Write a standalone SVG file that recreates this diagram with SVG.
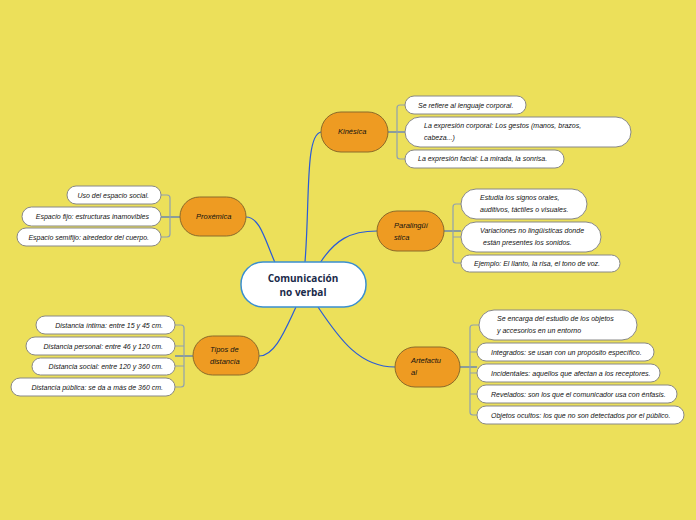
<svg xmlns="http://www.w3.org/2000/svg" width="696" height="520" viewBox="0 0 696 520">
<style>
.m{fill:#ee9b22;stroke:#8a6a2a;stroke-width:1}
.c{fill:#fff;stroke:#888;stroke-width:1}
.t{font-family:"Liberation Sans",sans-serif;font-style:italic;font-size:7px;fill:#111}
.mt{font-family:"Liberation Sans",sans-serif;font-style:italic;font-size:7.5px;fill:#111}
.b{fill:none;stroke:#8fa0b0;stroke-width:1.2}
.l{fill:none;stroke:#2a5bd7;stroke-width:1.2}
</style>
<rect width="696" height="520" fill="#ece05a"/>
<g id="connectors">
<path class="l" d="M305 262 C310 200 305 135 321 132"/>
<path class="l" d="M320 263 C335 240 350 231 377 231"/>
<path class="l" d="M318 307 C340 340 360 367 395 367"/>
<path class="l" d="M276 265 C265 240 260 217 246 217"/>
<path class="l" d="M296 307 C285 330 275 356 259 356"/>
<path class="l" d="M388 132 H405 M444 231 H461 M460 367 H477 M180 217 H161 M193 356 H175" stroke-width="1.5"/>
<path class="b" d="M405 105 H400 Q397 105 397 108 V156 Q397 159 400 159 H405 M397 132 H405"/>
<path class="b" d="M461 204 H456 Q453 204 453 207 V260 Q453 263 456 263 H461 M453 237 H461"/>
<path class="b" d="M479 325 H473 Q470 325 470 328 V412 Q470 415 473 415 H477 M470 352 H477 M470 373 H477 M470 394 H477"/>
<path class="b" d="M161 195 H167 Q170 195 170 198 V234 Q170 237 167 237 H161"/>
<path class="b" d="M175 325 H181 Q184 325 184 328 V384 Q184 387 181 387 H175 M184 346 H175 M184 366 H175"/>
</g>
<g id="center"><rect x="241" y="262" width="125" height="45" rx="22" fill="#fff" stroke="#3a8fd0" stroke-width="1.5"/>
<text x="303" y="282" text-anchor="middle" font-family="'Open Sans',sans-serif" font-weight="bold" font-size="10" fill="#1a2a4a">Comunicación</text>
<text x="303" y="296" text-anchor="middle" font-family="'Open Sans',sans-serif" font-weight="bold" font-size="10" fill="#1a2a4a">no verbal</text></g>
<g id="kinesica"><rect class="m" x="321" y="112" width="67" height="40" rx="20"/><text class="mt" x="338" y="134">Kinésica</text></g>
<g id="k1"><rect class="c" x="405" y="96" width="121" height="18" rx="9"/><text class="t" x="418" y="108">Se refiere al lenguaje corporal.</text></g>
<g id="k2"><rect class="c" x="405" y="117" width="226" height="30" rx="15"/><text class="t" x="424" y="128">La expresión corporal: Los gestos (manos, brazos,</text><text class="t" x="424" y="140">cabeza...)</text></g>
<g id="k3"><rect class="c" x="405" y="150" width="159" height="18" rx="9"/><text class="t" x="418" y="161">La expresión facial: La mirada, la sonrisa.</text></g>
<g id="paraling"><rect class="m" x="377" y="211" width="67" height="40" rx="20"/><text class="mt" x="394" y="228">Paralingüí</text><text class="mt" x="394" y="240">stica</text></g>
<g id="p1"><rect class="c" x="461" y="189" width="126" height="30" rx="15"/><text class="t" x="480" y="200">Estudia los signos orales,</text><text class="t" x="480" y="212">auditivos, táctiles o visuales.</text></g>
<g id="p2"><rect class="c" x="461" y="222" width="140" height="30" rx="15"/><text class="t" x="480" y="233">Variaciones no lingüísticas donde</text><text class="t" x="483" y="245">están presentes los sonidos.</text></g>
<g id="p3"><rect class="c" x="461" y="255" width="159" height="17" rx="8.5"/><text class="t" x="474" y="266">Ejemplo: El llanto, la risa, el tono de voz.</text></g>
<g id="artefactual"><rect class="m" x="395" y="347" width="65" height="40" rx="20"/><text class="mt" x="411" y="363">Artefactu</text><text class="mt" x="411" y="375">al</text></g>
<g id="a1"><rect class="c" x="479" y="310" width="158" height="30" rx="15"/><text class="t" x="497" y="321">Se encarga del estudio de los objetos</text><text class="t" x="497" y="333">y accesorios en un entorno</text></g>
<g id="a2"><rect class="c" x="477" y="343" width="177" height="18" rx="9"/><text class="t" x="491" y="355">Integrados: se usan con un propósito específico.</text></g>
<g id="a3"><rect class="c" x="477" y="364" width="183" height="18" rx="9"/><text class="t" x="491" y="376">Incidentales: aquellos que afectan a los receptores.</text></g>
<g id="a4"><rect class="c" x="477" y="385" width="200" height="18" rx="9"/><text class="t" x="491" y="397">Revelados: son los que el comunicador usa con énfasis.</text></g>
<g id="a5"><rect class="c" x="477" y="406" width="207" height="18" rx="9"/><text class="t" x="491" y="418">Objetos ocultos: los que no son detectados por el público.</text></g>
<g id="proxemica"><rect class="m" x="180" y="197" width="66" height="39" rx="19.5"/><text class="mt" x="196" y="219">Proxémica</text></g>
<g id="x1"><rect class="c" x="67" y="186" width="94" height="18" rx="9"/><text class="t" x="149" y="198" text-anchor="end">Uso del espacio social.</text></g>
<g id="x2"><rect class="c" x="22" y="207" width="139" height="19" rx="9.5"/><text class="t" x="149" y="219" text-anchor="end">Espacio fijo: estructuras inamovibles</text></g>
<g id="x3"><rect class="c" x="17" y="228" width="144" height="18" rx="9"/><text class="t" x="149" y="240" text-anchor="end">Espacio semifijo: alrededor del cuerpo.</text></g>
<g id="tipos"><rect class="m" x="193" y="336" width="66" height="39" rx="19.5"/><text class="mt" x="210" y="352">Tipos de</text><text class="mt" x="210" y="364">distancia</text></g>
<g id="d1"><rect class="c" x="36" y="316" width="139" height="18" rx="9"/><text class="t" x="163" y="328" text-anchor="end">Distancia íntima: entre 15 y 45 cm.</text></g>
<g id="d2"><rect class="c" x="26" y="337" width="149" height="18" rx="9"/><text class="t" x="163" y="349" text-anchor="end">Distancia personal: entre 46 y 120 cm.</text></g>
<g id="d3"><rect class="c" x="32" y="358" width="143" height="17" rx="8.5"/><text class="t" x="163" y="369" text-anchor="end">Distancia social: entre 120 y 360 cm.</text></g>
<g id="d4"><rect class="c" x="11" y="378" width="164" height="18" rx="9"/><text class="t" x="163" y="390" text-anchor="end">Distancia pública: se da a más de 360 cm.</text></g>
</svg>
